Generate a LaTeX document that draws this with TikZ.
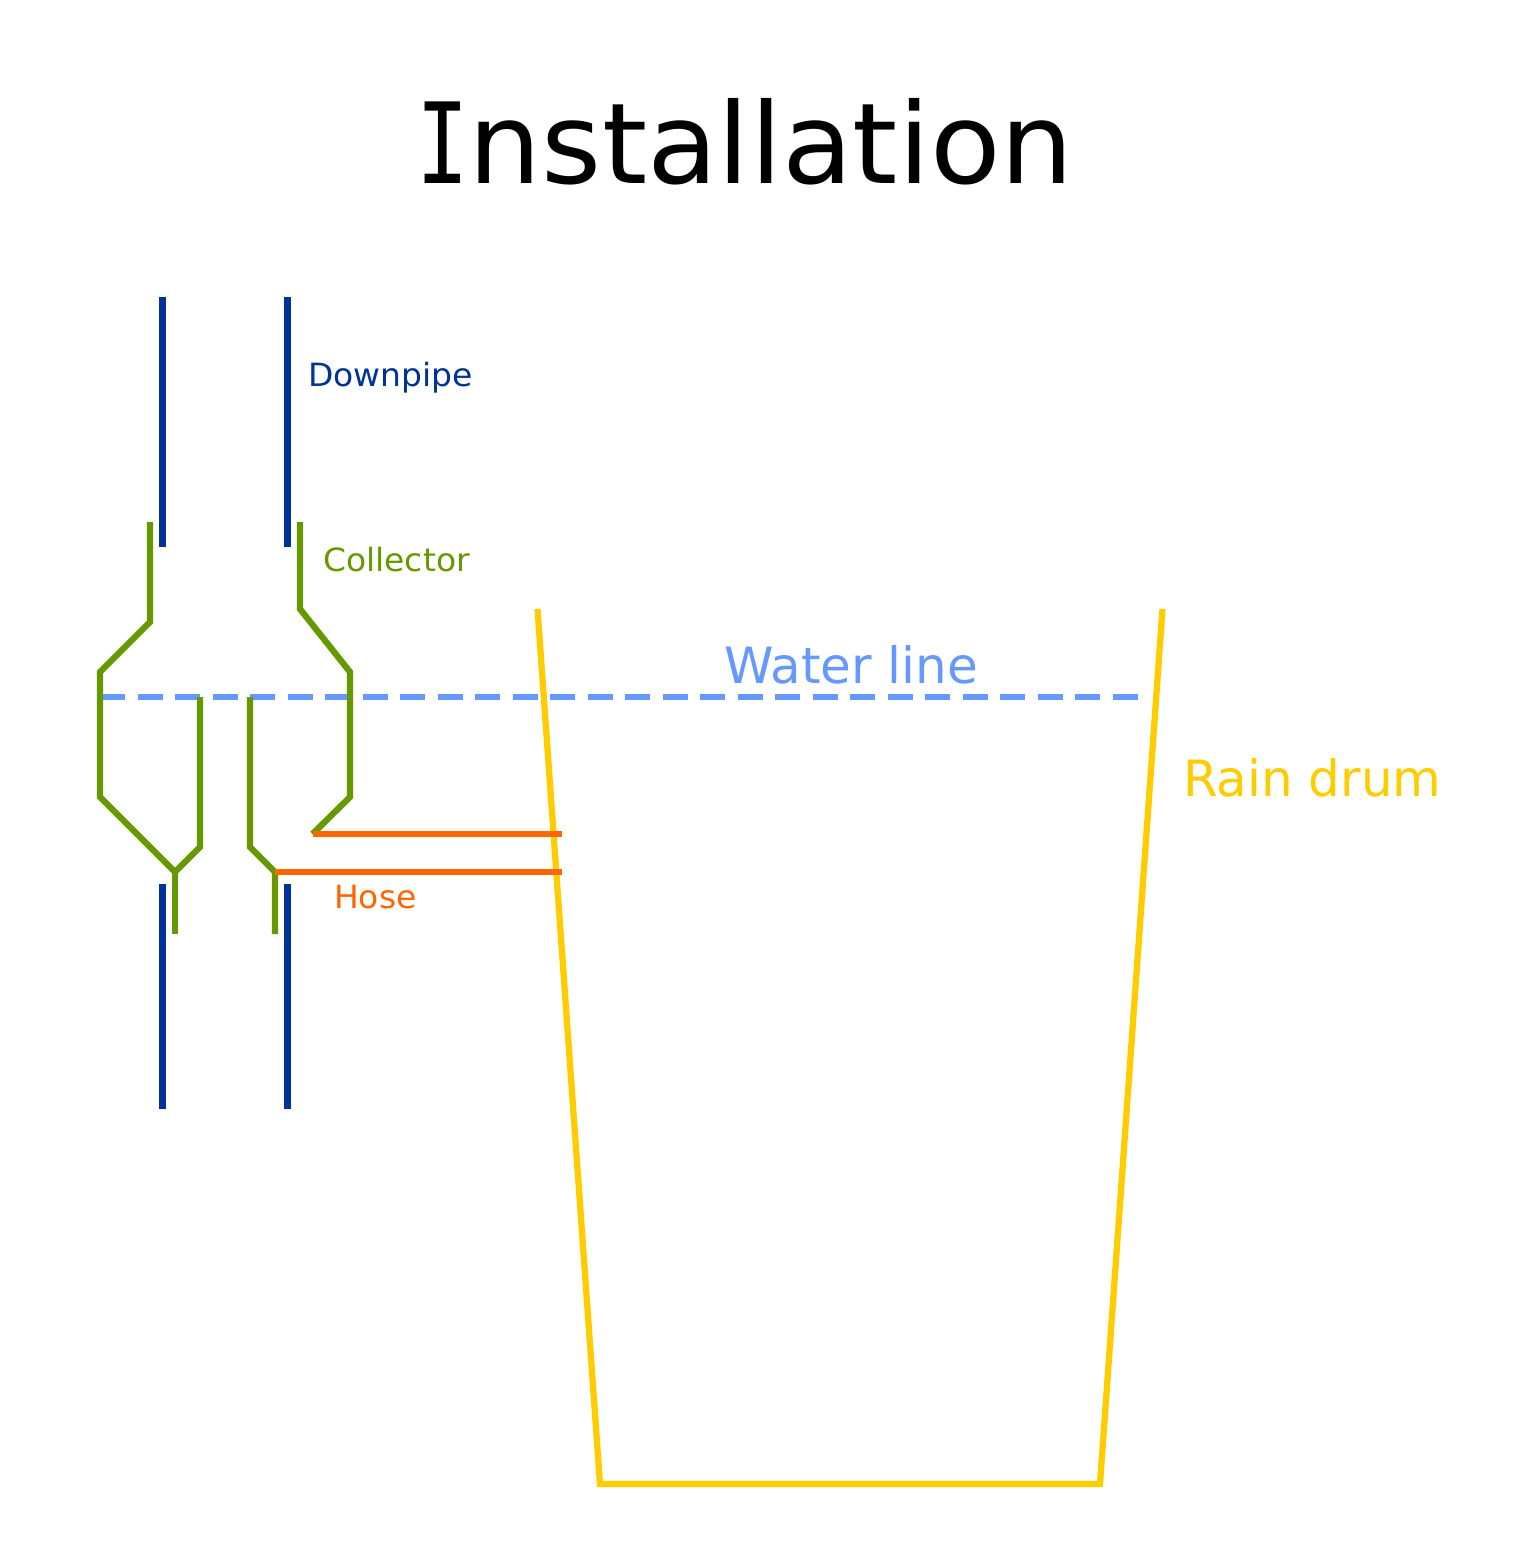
\documentclass[tikz,border=0pt]{standalone}
\usepackage{fontspec}
\setmainfont{DejaVu Sans}
\newfontfamily\widefont[FakeStretch=1.03]{DejaVu Sans}
\newfontfamily\capfont[FakeStretch=0.78]{DejaVu Sans Mono}
\newfontfamily\labelfont[FakeStretch=1.03]{DejaVu Sans}
\definecolor{pipeblue}{HTML}{003399}
\definecolor{collgreen}{HTML}{669900}
\definecolor{hoseorange}{HTML}{FF6600}
\definecolor{waterblue}{HTML}{6699FF}
\definecolor{drumyellow}{HTML}{FFCC00}
\tikzset{
  pipe/.style={line width=6.25pt,pipeblue},
  coll/.style={line width=6.25pt,collgreen},
  hose/.style={line width=6.25pt,hoseorange},
  water/.style={line width=6.25pt,waterblue,dash pattern=on 25pt off 12.5pt},
  drum/.style={line width=6.25pt,drumyellow},
  lbl/.style={anchor=base west,inner sep=0pt},
  small/.style={lbl,font=\labelfont\fontsize{32}{32}\selectfont},
  large/.style={lbl,font=\fontsize{50}{50}\selectfont}
}
\begin{document}
\begin{tikzpicture}[x=1pt,y=-1pt]
  \useasboundingbox (0,0) rectangle (1525,1562);

  % water
  \draw[water] (100,697) -- (1138,697);

  % downpipe
  \draw[pipe] (162.5,297) -- (162.5,547);
  \draw[pipe] (287.5,297) -- (287.5,547);
  \draw[pipe] (162.5,884) -- (162.5,1109);
  \draw[pipe] (287.5,884) -- (287.5,1109);

  % collector
  \draw[coll] (150,522) -- (150,622) -- (100,672) -- (100,797) -- (175,872) -- (200,847) -- (200,697);
  \draw[coll] (175,872) -- (175,934);
  \draw[coll] (300,522) -- (300,609) -- (350,672) -- (350,797) -- (312.5,834);
  \draw[coll] (250,697) -- (250,847) -- (275,872) -- (275,934);

  % drum
  \draw[drum] (537.5,609) -- (600,1484) -- (1100,1484) -- (1162.5,609);

  % hose
  \draw[hose] (312.5,834) -- (562,834);
  \draw[hose] (275,872) -- (562,872);

  % labels
  \node[lbl,font=\fontsize{112}{112}\selectfont] (title) at (416,184) {{\capfont I}{\widefont nstallation}};
  \node[small,text=pipeblue] (downpipe) at (308,386) {Downpipe};
  \node[small,text=collgreen] (collector) at (323,571) {Collector};
  \node[small,text=hoseorange] (hoselabel) at (334,908) {Hose};
  \node[large,text=waterblue] (waterline) at (724,683) {Water line};
  \node[large,text=drumyellow] (raindrum) at (1183,796) {Rain drum};
\end{tikzpicture}
\end{document}
